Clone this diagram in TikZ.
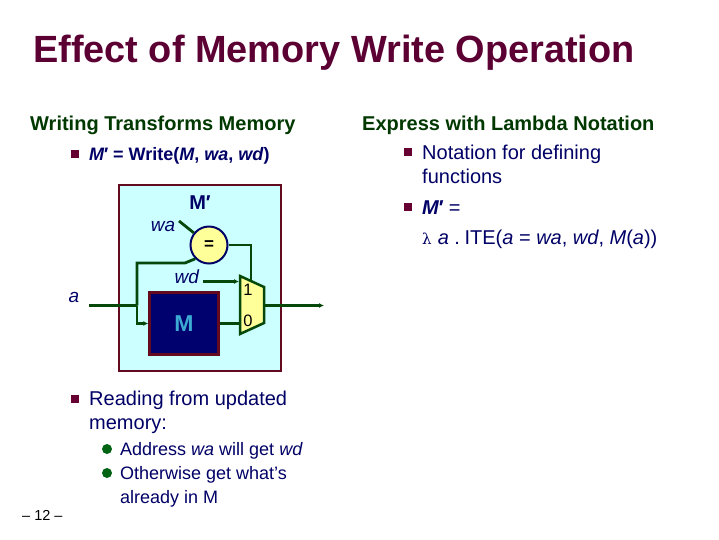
\documentclass[tikz,border=0pt]{standalone}
\usepackage{fontspec}
\setmainfont{Liberation Sans}
\usetikzlibrary{arrows.meta}
\definecolor{ttl}{RGB}{92,0,52}
\definecolor{hd}{RGB}{0,56,0}
\definecolor{navy}{RGB}{0,0,102}
\definecolor{wire}{RGB}{5,72,10}
\definecolor{boxb}{RGB}{100,10,30}
\definecolor{cyanbg}{RGB}{204,255,255}
\definecolor{yel}{RGB}{255,255,153}
\definecolor{memc}{RGB}{0,0,110}
\definecolor{memt}{RGB}{60,170,210}
\definecolor{bul}{RGB}{102,0,51}
\definecolor{bulg}{RGB}{0,100,20}
\tikzset{
  x=1pt,y=-1pt,
  lbl/.style={inner sep=0pt,anchor=base west,text=navy,font=\fontsize{20}{24}\selectfont},
  sublbl/.style={inner sep=0pt,anchor=base west,text=navy,font=\fontsize{18}{22}\selectfont},
  head/.style={inner sep=0pt,anchor=base west,text=hd,font=\fontsize{20}{24}\selectfont\bfseries},
  dlbl/.style={inner sep=0pt,anchor=base,text=navy,font=\fontsize{19}{23}\selectfont},
  wirel/.style={draw=wire,line width=2.8pt},
  arr/.style={wirel,-{Latex[length=5pt,width=5pt]}},
  sq/.style={fill=bul,inner sep=0pt,minimum size=8pt},
  dot/.style={circle,fill=bulg,inner sep=0pt,minimum size=10pt},
  muxd/.style={inner sep=0pt,anchor=base,text=black,font=\fontsize{16.5}{19}\selectfont}
}
\begin{document}
\begin{tikzpicture}
\useasboundingbox (0,0) rectangle (719,539);
\fill[white] (0,0) rectangle (719,539);
\node[inner sep=0pt,anchor=base west,text=ttl,font=\fontsize{37.9}{42}\selectfont\bfseries] (title) at (33,62) {Effect of Memory Write Operation};
\node[head] (h1) at (30,130) {Writing Transforms Memory};
\node[head] (h2) at (362,130) {Express with Lambda Notation};
\node[sq] (b1) at (75,154) {};
\node[lbl,font=\fontsize{18}{22}\selectfont\bfseries] (t1) at (89,160) {\textit{M\kern-1pt\char"2032} = Write(\textit{M}, \textit{wa}, \textit{wd})};
\node[sq] (b2) at (408,152) {};
\node[lbl] (t2) at (422,159) {Notation for defining};
\node[lbl] (t2b) at (422,183) {functions};
\node[sq] (b3) at (408,207) {};
\node[lbl] (t3) at (422,214) {\textbf{\textit{M\kern-1pt\char"2032}} =};
\node[lbl] (t4) at (422,244) {\fontspec{DejaVu Serif}\fontsize{15}{18}\selectfont λ\fontspec{Liberation Sans}\fontsize{20}{24}\selectfont\ \kern0.5pt\textit{a} .\kern-1pt\ ITE(\textit{a} = \textit{wa}, \textit{wd}, \textit{M}(\textit{a}))};
% box
\draw[draw=boxb,line width=2.5pt,fill=cyanbg] (119,185) rectangle (281,371);
\node[dlbl,font=\fontsize{20}{24}\selectfont\bfseries] (mp) at (200,209) {M\char"2032};
\node[dlbl] (wa) at (163,231) {\textit{wa}};
\node[dlbl] (wd) at (187,283) {\textit{wd}};
\node[dlbl] (a) at (74,302) {\textit{a}};
\coordinate (in) at (89,305.5);
\coordinate (out) at (324,305.5);
\coordinate (wa0) at (179,221);
\coordinate (j) at (137,305.5);
\coordinate (c1) at (137,263);
\coordinate (c2) at (185,263);
\coordinate (wd0) at (203,281.5);
% memory
\node[draw=boxb,line width=2.5pt,fill=memc,text=memt,minimum width=69pt,minimum height=62pt,inner sep=0pt,font=\fontsize{23}{26}\selectfont\bfseries] (M) at (184,323.5) {M};
% eq
\node[circle,draw=navy,line width=2pt,fill=yel,minimum size=37pt,inner sep=0pt,text=black,font=\fontsize{17}{18}\selectfont\bfseries] (eq) at (209,245) {=};
% mux
\draw[draw=wire,line width=2.5pt,fill=yel] (240,276) -- (264,287) -- (264,323) -- (240,334) -- cycle;
\coordinate (mux1) at (239,281.5);
\coordinate (mux0) at (239,323.5);
\coordinate (muxs) at (251,280);
\coordinate (muxo) at (265,305.5);
\node[muxd] (one) at (248,295) {1};
\node[muxd] (zero) at (248,326) {0};
% wires
\draw[wirel] (wa0) -- (eq);
\draw[wirel] (eq.225) -- (c2) -- (c1) -- (j);
\draw[arr] (j) |- (M.west);
\draw[wirel] (in) -- (j);
\draw[arr] (wd0) -- (mux1);
\draw[wirel] (eq.east) -| (muxs);
\draw[wirel] (M.east) -- (mux0);
\draw[arr] (muxo) -- (out);
% reading
\node[sq] (b4) at (75,399) {};
\node[lbl] (t5) at (89,405) {Reading from updated};
\node[lbl] (t5b) at (89,429) {memory:};
\node[dot] (d1) at (107,449) {};
\node[sublbl] (t6) at (120,455) {Address \textit{wa} will get \textit{wd}};
\node[dot] (d2) at (107,473) {};
\node[sublbl] (t7) at (120,479) {Otherwise get what’s};
\node[sublbl] (t7b) at (120,503) {already in M};
\node[inner sep=0pt,anchor=base west,text=black,font=\fontsize{14.5}{17}\selectfont] (pg) at (22,520) {– 12 –};
\end{tikzpicture}
\end{document}
